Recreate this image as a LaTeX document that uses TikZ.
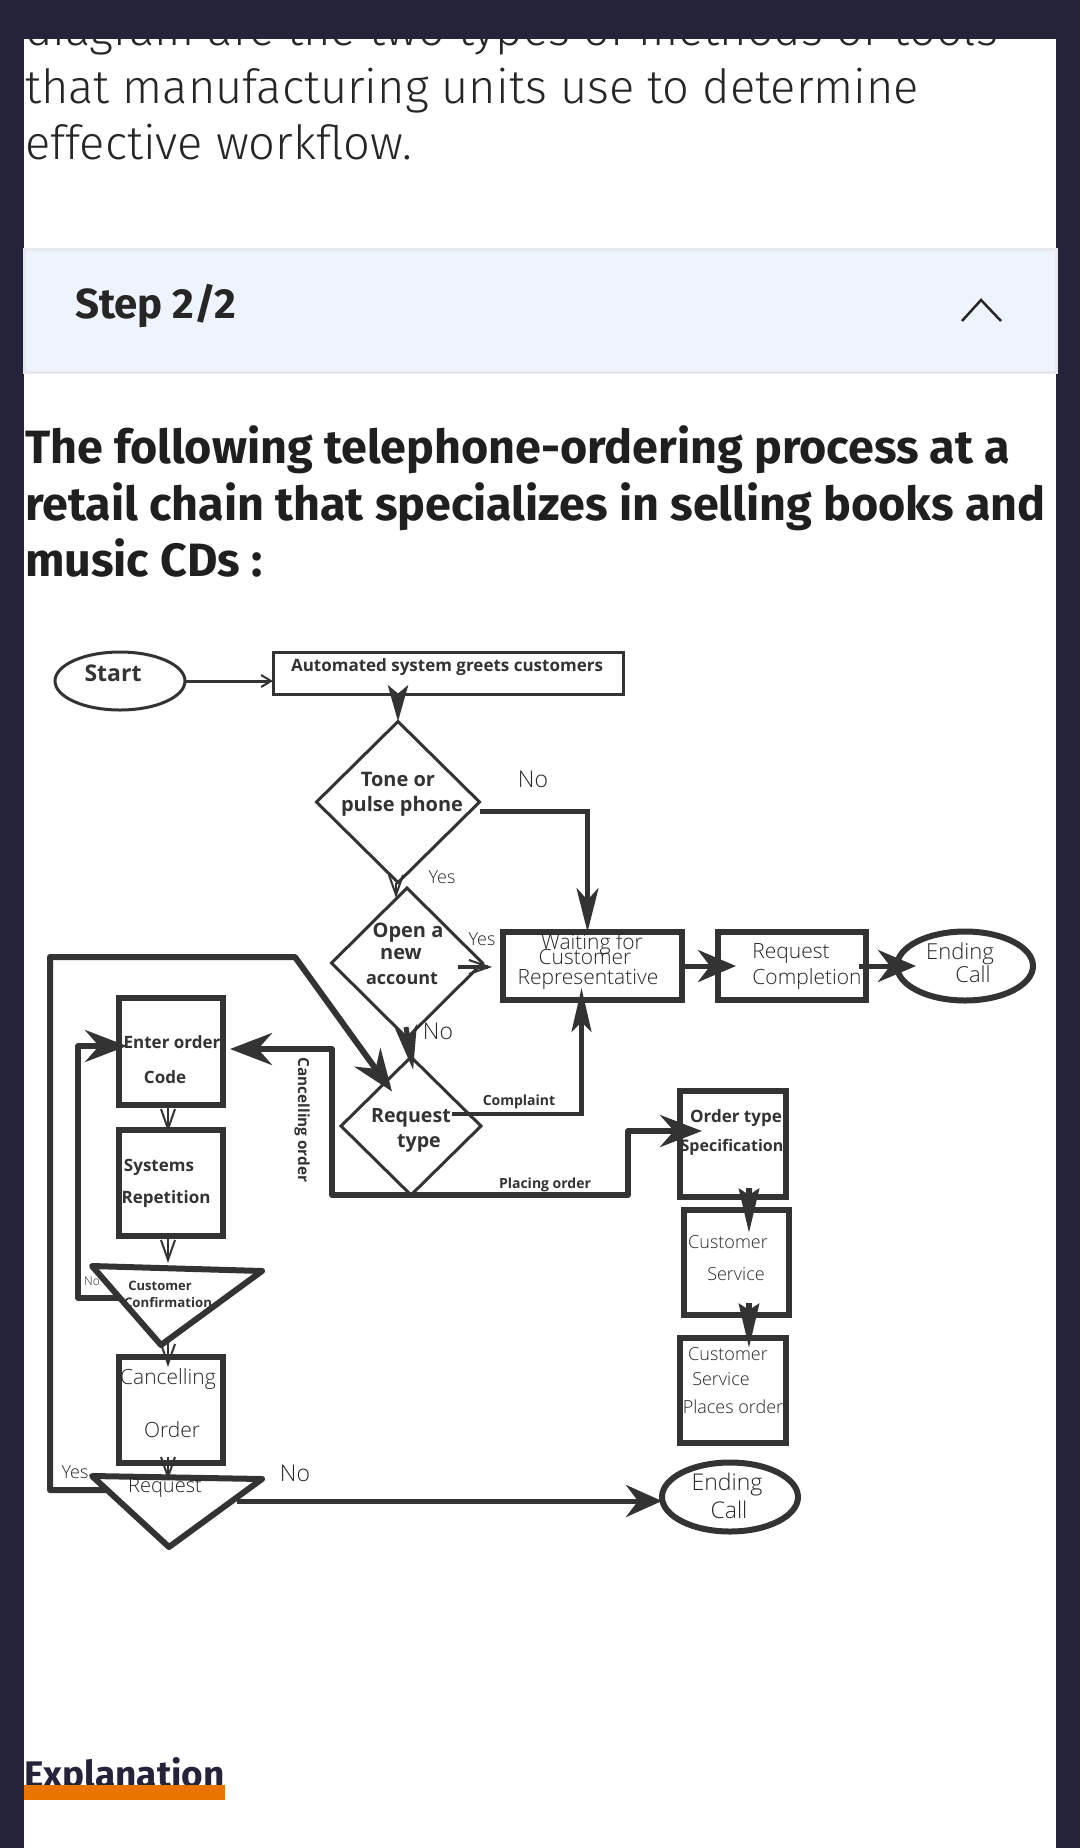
\documentclass[tikz,border=0pt]{standalone}
\usepackage{fontspec}
\usepackage{tikz}
\usetikzlibrary{shapes.geometric,arrows.meta}
\setmainfont{Open Sans}
\newfontfamily\pagefont{Fira Sans}
\IfFontExistsTF{Fira Sans Light}{\newfontfamily\pagelight{Fira Sans Light}}{\newfontfamily\pagelight{Fira Sans}}
\IfFontExistsTF{Open Sans Light}{\newfontfamily\chartlight{Open Sans Light}}{\newfontfamily\chartlight{Open Sans}}
\definecolor{pageframe}{HTML}{25233A}
\definecolor{chartink}{HTML}{333333}
\definecolor{panelfill}{HTML}{EEF3FD}
\definecolor{panelrule}{HTML}{E6E8EE}
\definecolor{tabline}{HTML}{E87500}
\newcommand{\fs}[1]{\fontsize{#1}{#1}\selectfont}

\begin{document}
\begin{tikzpicture}[x=1pt,y=-1pt,every text node part/.style={align=center},
every node/.style={inner sep=0pt,outer sep=0pt,text=chartink},
pageline/.style={anchor=base west,font=\pagelight\fs{47},text=black!85},
pagehead/.style={anchor=base west,font=\pagefont\bfseries\fs{46.7},text=black!88},
box/.style={draw=chartink,line width=5.5pt,rectangle},
thinbox/.style={draw=chartink,line width=3pt,rectangle},
diam/.style={draw=chartink,line width=3pt,diamond},
oval/.style={draw=chartink,line width=6pt,ellipse},
plain/.style={font=\chartlight\fs{21},text=black!85},
strong/.style={font=\bfseries\fs{17}},
tiny/.style={font=\bfseries\fs{14}},
thinarr/.style={draw=chartink,line width=2pt,-{Straight Barb[length=20pt,width=14pt,line width=2pt]}},
medarr/.style={draw=chartink,line width=5pt,-{Stealth[length=44pt,width=22pt,inset=12pt]}},
fatarr/.style={draw=chartink,line width=6pt,line join=round,-{Stealth[length=42pt,width=32pt,inset=14pt]}},
sidearr/.style={draw=chartink,line width=5pt,-{Stealth[length=38pt,width=32pt,inset=12pt]}}]
\useasboundingbox (0,0) rectangle (1080,1848);
% page
\fill[pageframe] (0,0) rectangle (1080,1848);
\fill[white] (24,39) rectangle (1056,1848);
\node[pageline] (cutline) at (25,45) {diagram are the two types of methods or tools};
\node[pageline] (lineone) at (25,103) {that manufacturing units use to determine};
\node[pageline] (linetwo) at (25,159) {effective workflow.};
\fill[pageframe] (0,0) rectangle (1080,39);
\node[rectangle,draw=panelrule,fill=panelfill,line width=3pt,minimum width=1032pt,minimum height=123pt,anchor=north west] (panel) at (24,249) {};
\node[anchor=base west,font=\pagefont\bfseries\fs{42},text=black!85] (steplabel) at (75,318) {Step 2/2};
\coordinate (chevl) at (962,321);
\coordinate (chevt) at (981,300);
\coordinate (chevr) at (1001,321);
\draw[black!85,line width=2.5pt] (chevl) -- (chevt) -- (chevr);
\node[pagehead] (headone) at (25,463) {The following telephone-ordering process at a};
\node[pagehead] (headtwo) at (25,520) {retail chain that specializes in selling books and};
\node[pagehead] (headthree) at (25,576) {music CDs :};
% shapes
\node[oval,line width=3pt,minimum width=130pt,minimum height=58pt] (start) at (120,681) {};
\node[thinbox,minimum width=350pt,minimum height=42pt] (greet) at (448,673) {};
\node[diam,minimum width=163pt,minimum height=161pt] (tone) at (398,802) {};
\node[diam,minimum width=151pt,minimum height=150pt] (acct) at (407,963) {};
\node[diam,minimum width=140pt,minimum height=138pt] (reqtype) at (411,1126) {};
\node[box,minimum width=179pt,minimum height=68pt] (wait) at (592.5,966) {};
\node[box,minimum width=148pt,minimum height=68pt] (compl) at (792,966) {};
\node[oval,minimum width=136pt,minimum height=69pt] (endone) at (965,966) {};
\node[box,minimum width=104pt,minimum height=107pt] (enter) at (171,1051.5) {};
\node[box,minimum width=104pt,minimum height=106pt] (sysrep) at (171,1183) {};
\node[box,minimum width=104pt,minimum height=106pt] (cancel) at (171,1410) {};
\node[box,minimum width=106pt,minimum height=106pt] (otype) at (733,1144) {};
\node[box,minimum width=105pt,minimum height=105pt] (cserv) at (736.5,1262.5) {};
\node[box,minimum width=106pt,minimum height=105pt] (places) at (733,1390.5) {};
\node[oval,minimum width=136pt,minimum height=69pt] (endtwo) at (730,1497) {};
\coordinate (confa) at (92,1266);
\coordinate (confb) at (262,1271);
\coordinate (confc) at (161,1345);
\coordinate (confout) at (119,1298);
\coordinate (reqa) at (92,1476);
\coordinate (reqb) at (262,1479);
\coordinate (reqc) at (169,1547);
\coordinate (reqout) at (107,1490);
\coordinate (reqno) at (237,1501);
\coordinate (loopa) at (50,957);
\coordinate (loopb) at (295,957);
\coordinate (cancelturn) at (332,1195);
\coordinate (placeturn) at (628,1195);
\coordinate (noturn) at (78,1298);
\draw[chartink,line width=6pt,line join=round] (confa) -- (confb) -- (confc) -- cycle;
\draw[chartink,line width=6pt,line join=round] (reqa) -- (reqb) -- (reqc) -- cycle;
% connectors
\draw[thinarr,line width=3pt,-{Straight Barb[length=10pt,width=12pt,line width=2pt]}] (start.east) -- (start.east -| greet.west);
\draw[thinarr,line width=5pt,-{Stealth[length=36pt,width=20pt,inset=8pt]}] (tone.north |- greet.south) -- (tone.north);
\draw[thinarr,shorten >=-10pt] ([xshift=-2pt]tone.south) -- ([xshift=-2pt]tone.south |- acct.north);
\draw[medarr] ([yshift=-9pt]tone.east) -| ([xshift=-5pt]wait.north);
\draw[thinarr,line width=3.5pt,shorten >=11pt] ([xshift=-25pt,yshift=-4pt]acct.east) -- ([yshift=-1pt]wait.west);
\draw[sidearr,shorten >=-18pt] (wait.east) -- (compl.west);
\draw[sidearr,shorten >=-19pt] ([xshift=-7pt]compl.east) -- (endone.west);
\draw[fatarr] (reqout) -| (loopa) -- (loopb) -- ([xshift=16pt]reqtype.north west);
\draw[medarr,line width=4.5pt,-{Stealth[length=44pt,width=20pt,inset=10pt]},shorten >=-12pt] ([xshift=-29pt,yshift=12pt]reqtype.east) -| ([xshift=-11pt]wait.south);
\draw[medarr,shorten >=-13pt] ([xshift=-1pt]acct.south |- 0,1027) -- (reqtype.north);
\draw[fatarr,line width=5.5pt,shorten >=7pt] (reqtype.south) -- (cancelturn) |- ([yshift=2.5pt]enter.east);
\draw[fatarr,line width=5.5pt,shorten >=-22pt] (reqtype.south) -- (placeturn) |- ([yshift=13pt]otype.west);
\draw[fatarr,line width=5.5pt,shorten >=-8pt] (confout) -- (noturn) |- ([yshift=5.5pt]enter.west);
\draw[thinarr,shorten >=-2pt] ([xshift=-3pt]enter.south) -- ([xshift=-3pt]sysrep.north);
\draw[thinarr] ([xshift=-3pt]sysrep.south) -- ([xshift=-3pt]sysrep.south |- 0,1263);
\draw[thinarr] ([xshift=-3pt]cancel.north |- 0,1343) -- ([xshift=-3pt,yshift=-10pt]cancel.north);
\draw[thinarr] ([xshift=-3pt,yshift=6pt]cancel.south) -- ([xshift=-3pt]cancel.south |- 0,1480);
\draw[medarr,line width=6pt,-{Stealth[length=44pt,width=20pt,inset=6pt]},shorten >=-23pt] ([xshift=16pt,yshift=9pt]otype.south) -- ([xshift=12.5pt]cserv.north);
\draw[medarr,line width=6pt,-{Stealth[length=44pt,width=20pt,inset=6pt]},shorten >=-10pt] ([xshift=12.5pt,yshift=12pt]cserv.south) -- ([xshift=16pt]places.north);
\draw[sidearr,-{Stealth[length=36pt,width=32pt,inset=12pt]}] (reqno) -- (reqno -| endtwo.west);
% texts
\node[strong,font=\bfseries\fs{23}] (startt) at (113,673) {Start};
\node[strong] (greett) at (447,667) {Automated system greets customers};
\node[strong,font=\bfseries\fs{20}] (tonea) at (398,779) {Tone or};
\node[strong,font=\bfseries\fs{20}] (toneb) at (402,806) {pulse phone};
\node[strong,font=\bfseries\fs{20}] (accta) at (408,933) {Open a};
\node[strong,font=\bfseries\fs{20}] (acctb) at (401,954) {new};
\node[strong,font=\bfseries\fs{18}] (acctc) at (402,979) {account};
\node[plain] (waita) at (592,944) {Waiting for};
\node[plain] (waitb) at (585,957) {Customer};
\node[plain] (waitc) at (588,979) {Representative};
\node[plain] (compla) at (791,954) {Request};
\node[plain] (complb) at (807,979) {Completion};
\node[plain,font=\chartlight\fs{22}] (endonea) at (960,954) {Ending};
\node[plain,font=\chartlight\fs{22}] (endoneb) at (973,974) {Call};
\node[strong] (entera) at (172,1042) {Enter order};
\node[strong] (enterb) at (165,1077) {Code};
\node[strong] (sysa) at (159,1167) {Systems};
\node[strong] (sysb) at (166,1199) {Repetition};
\node[strong,font=\bfseries\fs{13}] (confx) at (160,1286) {Customer};
\node[strong,font=\bfseries\fs{13.2}] (confy) at (168,1302) {Confirmation};
\node[plain] (cancela) at (168,1379) {Cancelling};
\node[plain] (cancelb) at (172,1430) {Order};
\node[plain,font=\chartlight\fs{20}] (reqtext) at (165,1488) {Request};
\node[strong,font=\bfseries\fs{19.6}] (typea) at (411,1118) {Request};
\node[strong,font=\bfseries\fs{19.6}] (typeb) at (419,1143) {type};
\node[strong] (ordera) at (736,1118) {Order type};
\node[strong,font=\bfseries\fs{16}] (orderb) at (732,1147) {Specification};
\node[plain,font=\chartlight\fs{18}] (cserva) at (728,1242) {Customer};
\node[plain,font=\chartlight\fs{18}] (cservb) at (736,1274) {Service};
\node[plain,font=\chartlight\fs{18}] (placea) at (728,1354) {Customer};
\node[plain,font=\chartlight\fs{18}] (placeb) at (721,1379) {Service};
\node[plain,font=\chartlight\fs{18}] (placec) at (733,1407) {Places order};
\node[plain,font=\chartlight\fs{23}] (endtwoa) at (727,1485) {Ending};
\node[plain,font=\chartlight\fs{23}] (endtwob) at (729,1510) {Call};
% branch labels
\node[plain,font=\chartlight\fs{23}] (noone) at (533,779) {No};
\node[plain,font=\chartlight\fs{18}] (yesone) at (442,877) {Yes};
\node[plain,font=\chartlight\fs{18}] (yestwo) at (482,939) {Yes};
\node[plain,font=\chartlight\fs{23}] (notwo) at (438,1031) {No};
\node[plain,font=\chartlight\fs{12}] (nothree) at (92,1281) {No};
\node[plain,font=\chartlight\fs{18}] (yesthree) at (75,1472) {Yes};
\node[plain,font=\chartlight\fs{23}] (nofour) at (295,1473) {No};
\node[tiny] (complaint) at (519,1102) {Complaint};
\node[tiny] (placing) at (545,1185) {Placing order};
\node[tiny,font=\bfseries\fs{15.3},rotate=-90] (cancelling) at (302,1120) {Cancelling order};
% foot
\node[anchor=base west,font=\pagefont\bfseries\fs{37},text=pageframe] (explain) at (24,1787) {Explanation};
\fill[tabline] (24,1785) rectangle (225,1800);
\end{tikzpicture}
\end{document}
